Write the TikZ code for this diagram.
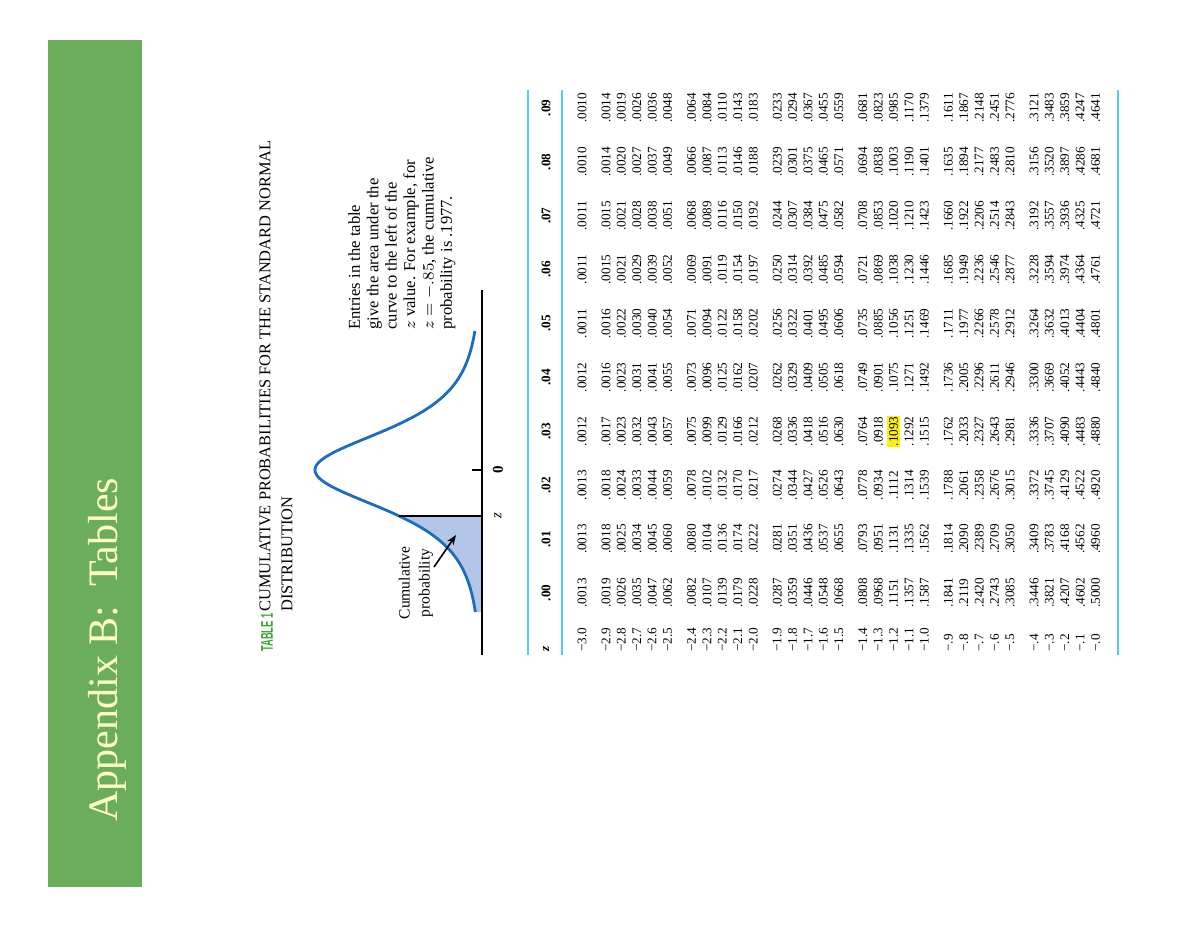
\documentclass[tikz,border=0pt]{standalone}
\usepackage{fontspec}
\setmainfont{Liberation Serif}
\setsansfont{Liberation Sans}
\usetikzlibrary{arrows.meta}
\definecolor{barGreen}{HTML}{6AAD5B}
\definecolor{barText}{HTML}{FFFFC8}
\definecolor{tabGreen}{HTML}{3FA535}
\definecolor{curveBlue}{HTML}{1C6CC0}
\definecolor{shadeBlue}{HTML}{B4C6E8}
\definecolor{ruleBlue}{HTML}{5BC8F5}
\tikzset{
  rot/.style={rotate=90, inner sep=0pt},
  cell/.style={rot, font=\fontsize{6.6}{7}\selectfont},
  hdr/.style={rot, font=\fontsize{6.6}{7}\selectfont\bfseries},
  rule/.style={draw=ruleBlue, line width=1.1pt},
}
\begin{document}
\begin{tikzpicture}[x=0.5pt,y=-0.5pt,
  declare function={bell(\d)=167*pow(1+(\d/71)^2,-2);}]
\useasboundingbox (0,0) rectangle (1200,927);
% green bar
\fill[barGreen] (48,40) rectangle (142,887);
\node[rot, anchor=west, text=barText, font=\fontsize{21}{24}\selectfont] (title) at (107,822) {Appendix B:\hspace{0.45em}Tables};
% table title
\node[rot, anchor=west, text=tabGreen, font=\sffamily\bfseries\fontsize{8.5}{9}\selectfont] (tab1) at (267,652) {\scalebox{0.55}[1]{TABLE 1}};
\node[rot, anchor=north west, align=left, font=\fontsize{8.2}{11}\selectfont] (cap) at (259,612) {CUMULATIVE PROBABILITIES FOR THE STANDARD NORMAL\\DISTRIBUTION};
% graph
\fill[shadeBlue] (482,612) -- plot[domain=612:516,samples=40] ({482-bell(\x-470)},\x) -- (482,516) -- cycle;
\draw[curveBlue, line width=1.4pt] plot[domain=331:612,samples=120] ({482-bell(\x-470)},\x);
\coordinate (ztop) at ({482-bell(46)},516);
\coordinate (zbot) at (482,516);
\draw[line width=0.6pt] (ztop) -- (zbot);
\coordinate (axA) at (482,290);
\coordinate (axB) at (482,655);
\draw[line width=0.8pt] (axA) -- (axB);
\coordinate (tk1) at (472,470);
\coordinate (tk2) at (482,470);
\draw[line width=0.6pt] (tk1) -- (tk2);
\node[rot, font=\fontsize{7.5}{8}\selectfont\bfseries] (zero) at (498,470) {0};
\node[rot, font=\fontsize{7.5}{8}\selectfont\itshape] (zlab) at (498,516) {z};
\node[rot, align=center, font=\fontsize{7.8}{10}\selectfont] (cum) at (416,583) {Cumulative\\probability};
\coordinate (arrT) at (434,567);
\coordinate (arrH) at (456,535);
\draw[-{Stealth[length=5pt]}, line width=0.8pt] (arrT) -- (arrH);
\node[rot, anchor=north west, align=left, font=\fontsize{8.3}{9.2}\selectfont] (entries) at (348,330) {Entries in the table\\give the area under the\\curve to the left of the\\$z$ value. For example, for\\$z = -.85$, the cumulative\\probability is .1977.};
% rules
\coordinate (r1a) at (528,90); \coordinate (r1b) at (528,655);
\coordinate (r2a) at (562,90); \coordinate (r2b) at (562,655);
\coordinate (r3a) at (1118,90); \coordinate (r3b) at (1118,655);
\draw[rule] (r1a) -- (r1b);
\draw[rule] (r2a) -- (r2b);
\draw[rule] (r3a) -- (r3b);
% header
\node[hdr, anchor=west] (hz) at (546,652) {\itshape z};
\foreach \h [count=\c] in {.00,.01,.02,.03,.04,.05,.06,.07,.08,.09}
  \node[hdr] (h\c) at (546,{593-(\c-1)*53.9}) {\h};
% highlight
\fill[yellow] (887,416) rectangle (900,447);
% rows
\foreach \rx/\lab/\vals [count=\r] in {
582/−3.0/{.0013,.0013,.0013,.0012,.0012,.0011,.0011,.0011,.0010,.0010},
606/−2.9/{.0019,.0018,.0018,.0017,.0016,.0016,.0015,.0015,.0014,.0014},
621.4/−2.8/{.0026,.0025,.0024,.0023,.0023,.0022,.0021,.0021,.0020,.0019},
636.8/−2.7/{.0035,.0034,.0033,.0032,.0031,.0030,.0029,.0028,.0027,.0026},
652.2/−2.6/{.0047,.0045,.0044,.0043,.0041,.0040,.0039,.0038,.0037,.0036},
667.6/−2.5/{.0062,.0060,.0059,.0057,.0055,.0054,.0052,.0051,.0049,.0048},
691.6/−2.4/{.0082,.0080,.0078,.0075,.0073,.0071,.0069,.0068,.0066,.0064},
707/−2.3/{.0107,.0104,.0102,.0099,.0096,.0094,.0091,.0089,.0087,.0084},
722.4/−2.2/{.0139,.0136,.0132,.0129,.0125,.0122,.0119,.0116,.0113,.0110},
737.8/−2.1/{.0179,.0174,.0170,.0166,.0162,.0158,.0154,.0150,.0146,.0143},
753.2/−2.0/{.0228,.0222,.0217,.0212,.0207,.0202,.0197,.0192,.0188,.0183},
777.2/−1.9/{.0287,.0281,.0274,.0268,.0262,.0256,.0250,.0244,.0239,.0233},
792.6/−1.8/{.0359,.0351,.0344,.0336,.0329,.0322,.0314,.0307,.0301,.0294},
808/−1.7/{.0446,.0436,.0427,.0418,.0409,.0401,.0392,.0384,.0375,.0367},
823.4/−1.6/{.0548,.0537,.0526,.0516,.0505,.0495,.0485,.0475,.0465,.0455},
838.8/−1.5/{.0668,.0655,.0643,.0630,.0618,.0606,.0594,.0582,.0571,.0559},
862.8/−1.4/{.0808,.0793,.0778,.0764,.0749,.0735,.0721,.0708,.0694,.0681},
878.2/−1.3/{.0968,.0951,.0934,.0918,.0901,.0885,.0869,.0853,.0838,.0823},
893.6/−1.2/{.1151,.1131,.1112,.1093,.1075,.1056,.1038,.1020,.1003,.0985},
909/−1.1/{.1357,.1335,.1314,.1292,.1271,.1251,.1230,.1210,.1190,.1170},
924.4/−1.0/{.1587,.1562,.1539,.1515,.1492,.1469,.1446,.1423,.1401,.1379},
948.4/−.9/{.1841,.1814,.1788,.1762,.1736,.1711,.1685,.1660,.1635,.1611},
963.8/−.8/{.2119,.2090,.2061,.2033,.2005,.1977,.1949,.1922,.1894,.1867},
979.2/−.7/{.2420,.2389,.2358,.2327,.2296,.2266,.2236,.2206,.2177,.2148},
994.6/−.6/{.2743,.2709,.2676,.2643,.2611,.2578,.2546,.2514,.2483,.2451},
1010/−.5/{.3085,.3050,.3015,.2981,.2946,.2912,.2877,.2843,.2810,.2776},
1034/−.4/{.3446,.3409,.3372,.3336,.3300,.3264,.3228,.3192,.3156,.3121},
1049.4/−.3/{.3821,.3783,.3745,.3707,.3669,.3632,.3594,.3557,.3520,.3483},
1064.8/−.2/{.4207,.4168,.4129,.4090,.4052,.4013,.3974,.3936,.3897,.3859},
1080.2/−.1/{.4602,.4562,.4522,.4483,.4443,.4404,.4364,.4325,.4286,.4247},
1095.6/−.0/{.5000,.4960,.4920,.4880,.4840,.4801,.4761,.4721,.4681,.4641}}
{
  \node[cell, anchor=west] (z\r) at (\rx,652) {\lab};
  \foreach \v [count=\c] in \vals
    \node[cell] (v\r-\c) at (\rx,{593-(\c-1)*53.9}) {\v};
}
\end{tikzpicture}
\end{document}
